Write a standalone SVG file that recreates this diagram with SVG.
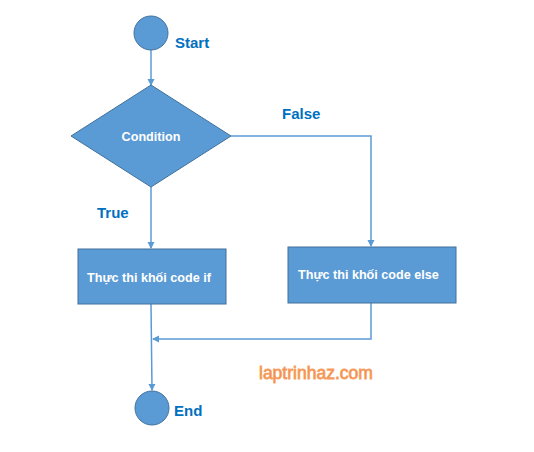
<svg xmlns="http://www.w3.org/2000/svg" width="534" height="452" viewBox="0 0 534 452">
<style>
.shape{fill:#5B9BD5;stroke:#41719C;stroke-width:1}
.lbl{font-family:"Liberation Sans",Arial,sans-serif;font-weight:bold;font-size:15px;fill:#0070C0}
.in{font-family:"Liberation Sans",Arial,sans-serif;font-weight:bold;font-size:12.6px;fill:#FFFFFF}
.conn{fill:none;stroke:#5B9BD5;stroke-width:1.5}
</style>
<defs>
<marker id="arr" markerWidth="8" markerHeight="8" refX="6" refY="4" orient="auto" markerUnits="userSpaceOnUse">
<path d="M0,0.5 L7,4 L0,7.5 Z" fill="#5B9BD5"/>
</marker>
</defs>
<rect width="534" height="452" fill="#FFFFFF"/>
<g id="connectors">
<path class="conn" d="M151,50 L151,85" marker-end="url(#arr)"/>
<path class="conn" d="M231,136 L371,136 L371,246" marker-end="url(#arr)"/>
<path class="conn" d="M151,187 L151,248" marker-end="url(#arr)"/>
<path class="conn" d="M371,303 L371,339 L153,339" marker-end="url(#arr)"/>
<path class="conn" d="M151,304 L152,390" marker-end="url(#arr)"/>
</g>
<g id="start">
<circle class="shape" cx="151" cy="33" r="17"/>
<text class="lbl" x="175" y="48">Start</text>
</g>
<g id="condition">
<polygon class="shape" points="151,85 231,136 151,187 71,136"/>
<text class="in" x="151" y="141" text-anchor="middle">Condition</text>
</g>
<g id="label-false">
<text class="lbl" x="282" y="119">False</text>
</g>
<g id="label-true">
<text class="lbl" x="97" y="218">True</text>
</g>
<g id="if-block">
<rect class="shape" x="78" y="249" width="148" height="55"/>
<text class="in" x="87" y="282">Thực thi khối code if</text>
</g>
<g id="else-block">
<rect class="shape" x="288" y="247" width="168" height="56"/>
<text class="in" x="298" y="279">Thực thi khối code else</text>
</g>
<g id="end">
<circle class="shape" cx="152" cy="408" r="17"/>
<text class="lbl" x="174" y="416">End</text>
</g>
<g id="watermark">
<text x="259" y="379" font-family="Liberation Sans,Arial,sans-serif" font-size="17.5px" fill="#F0883A" stroke="#F7A064" stroke-width="0.8">laptrinhaz.com</text>
</g>
</svg>
